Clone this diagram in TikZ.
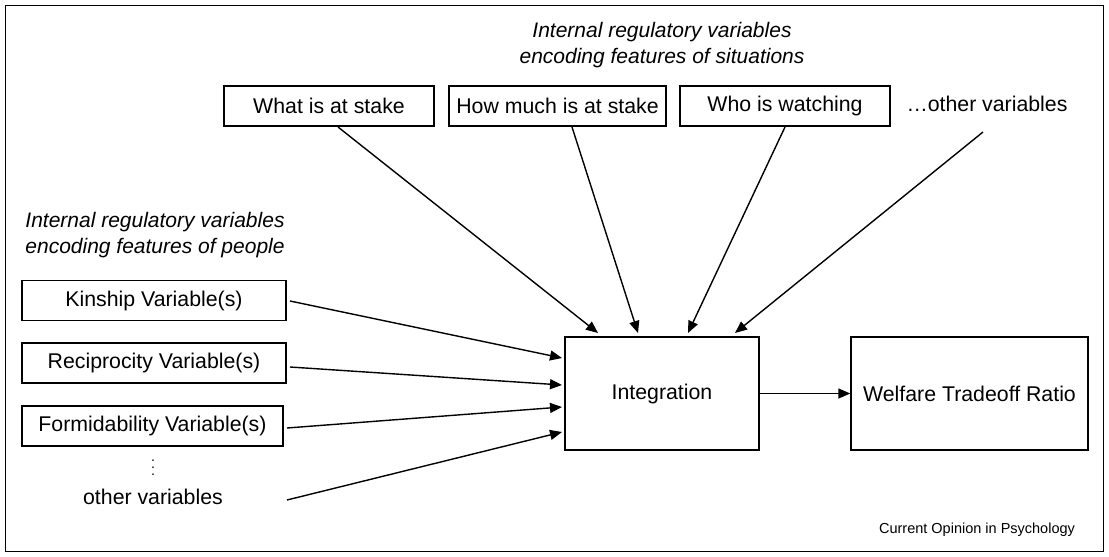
\documentclass[tikz,border=0pt]{standalone}
\usepackage{fontspec}
\setmainfont{Liberation Sans}
\usetikzlibrary{arrows.meta}
\begin{document}
\begin{tikzpicture}[x=1pt,y=-1pt,
  box/.style={draw,line width=1.4pt,inner sep=0pt},
  lbl/.style={font=\fontsize{21.3}{24}\selectfont},
  ttl/.style={font=\fontsize{21}{26}\selectfont\itshape,align=center},
  arr/.style={line width=1.4pt,-{Triangle[length=12pt,width=10pt]}}]
\useasboundingbox (0,0) rectangle (1109,557);
\draw[line width=1pt] (5,5) rectangle (1103,551);
\node[ttl] (t1) at (662,45) {Internal regulatory variables\\encoding features of situations};
\node[ttl] (t2) at (155,235) {Internal regulatory variables\\encoding features of people};
\node[box,minimum width=210pt,minimum height=40pt,lbl] (s1) at (329,106) {What is at stake};
\node[box,minimum width=217pt,minimum height=40pt,lbl] (s2) at (557.5,106) {How much is at stake};
\node[box,minimum width=210pt,minimum height=40pt,lbl] (s3) at (785,106) {Who is watching};
\node[lbl] (s4) at (987,104) {\dots other variables};
\node[box,minimum width=264pt,minimum height=40pt,lbl] (p1) at (154,300.5) {Kinship Variable(s)};
\node[box,minimum width=264pt,minimum height=40pt,lbl] (p2) at (154,363) {Reciprocity Variable(s)};
\node[box,minimum width=261pt,minimum height=40pt,lbl] (p3) at (152.5,426) {Formidability Variable(s)};
\node[inner sep=0pt,font=\fontsize{14}{7}\selectfont,align=center] (dots) at (153,468) {.\\.\\.};
\node[lbl] (p4) at (153,497) {other variables};
\node[box,minimum width=194pt,minimum height=113pt,lbl] (int) at (662,393.5) {Integration};
\node[box,minimum width=237pt,minimum height=113pt,lbl] (wtr) at (969.5,393.5) {Welfare Tradeoff Ratio};
\node[font=\fontsize{14.5}{16}\selectfont] (cap) at (977,530) {Current Opinion in Psychology};
\coordinate (a4) at (983,132);
\coordinate (b4) at (287,500);
\draw[arr] (338,127) -- (598,333);
\draw[arr] (572,127) -- (638,333);
\draw[arr] (785,127) -- (688,333);
\draw[arr] (a4) -- (735,333);
\draw[arr] (290,301) -- (562,358);
\draw[arr] (290,367) -- (562,385);
\draw[arr] (287,428) -- (562,407);
\draw[arr] (b4) -- (562,432);
\draw[arr] (int) -- (wtr);
\end{tikzpicture}
\end{document}
